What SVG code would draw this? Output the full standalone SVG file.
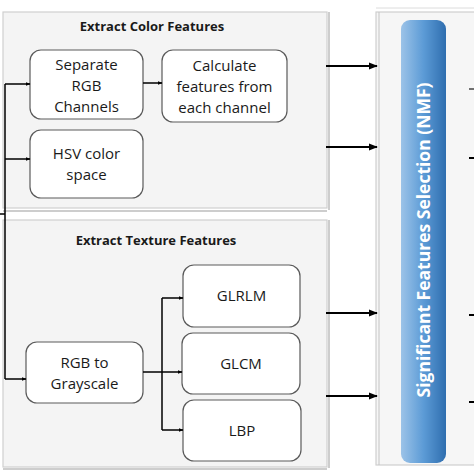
<svg xmlns="http://www.w3.org/2000/svg" width="474" height="474" viewBox="0 0 474 474">
<defs>
<style>
.panel{fill:#f4f4f4;stroke:#cfcfcf;stroke-width:1.2}
.shadow{fill:none;stroke:#bdbdbd;stroke-width:1.5}
.node{fill:#ffffff;stroke:#5a5a5a;stroke-width:1.2}
.lbl{font-family:"Open Sans","Liberation Sans",sans-serif;font-size:15px;fill:#1a1a1a;text-anchor:middle}
.ttl{font-family:"Open Sans","Liberation Sans",sans-serif;font-size:13px;font-weight:bold;fill:#1a1a1a;text-anchor:middle}
.thin{fill:none;stroke:#000;stroke-width:1.5}
.thick{fill:none;stroke:#000;stroke-width:2.2}
</style>
<marker id="ah" viewBox="0 0 10 10" refX="9" refY="5" markerWidth="5" markerHeight="5" orient="auto" markerUnits="userSpaceOnUse"><path d="M0,1 L10,5 L0,9 z" fill="#000"/></marker>
<marker id="ahb" viewBox="0 0 10 10" refX="9" refY="5" markerWidth="9" markerHeight="9" orient="auto" markerUnits="userSpaceOnUse"><path d="M0,1 L10,5 L0,9 z" fill="#000"/></marker>
<linearGradient id="blue" x1="0" y1="0" x2="1" y2="0">
<stop offset="0" stop-color="#9cc3e8"/>
<stop offset="0.5" stop-color="#5c9bd6"/>
<stop offset="1" stop-color="#2f6eaf"/>
</linearGradient>
</defs>
<rect width="474" height="474" fill="#ffffff"/>

<g id="panel-color">
<rect class="panel" x="3" y="12" width="324" height="196"/>
<line class="shadow" x1="3" y1="211" x2="327" y2="211"/>
<line class="shadow" x1="329" y1="12" x2="329" y2="210"/>
<text class="ttl" x="152" y="31">Extract Color Features</text>
</g>
<g id="panel-texture">
<rect class="panel" x="3" y="220" width="324" height="247"/>
<line class="shadow" x1="3" y1="469" x2="327" y2="469"/>
<line class="shadow" x1="329" y1="220" x2="329" y2="468"/>
<text class="ttl" x="156" y="245">Extract Texture Features</text>
</g>
<g id="panel-selection">
<rect x="376" y="12" width="110" height="453" fill="#f6f6f6" stroke="#cfcfcf" stroke-width="1.2"/>
<line x1="379" y1="12" x2="379" y2="465" stroke="#c4c4c4" stroke-width="1"/>
<line x1="376" y1="8" x2="474" y2="8" stroke="#dcdcdc" stroke-width="1"/>
</g>

<g id="node-separate">
<rect class="node" x="30" y="50" width="113" height="69" rx="11"/>
<text class="lbl" x="86.5" y="70">Separate</text>
<text class="lbl" x="86.5" y="91">RGB</text>
<text class="lbl" x="86.5" y="112">Channels</text>
</g>
<g id="node-calc">
<rect class="node" x="162" y="50" width="125" height="72" rx="11"/>
<text class="lbl" x="224.5" y="71">Calculate</text>
<text class="lbl" x="224.5" y="92">features from</text>
<text class="lbl" x="224.5" y="113">each channel</text>
</g>
<g id="node-hsv">
<rect class="node" x="30" y="130" width="113" height="68" rx="11"/>
<text class="lbl" x="86.5" y="159">HSV color</text>
<text class="lbl" x="86.5" y="180">space</text>
</g>
<g id="node-gray">
<rect class="node" x="26" y="342" width="117" height="61" rx="11"/>
<text class="lbl" x="84.5" y="368">RGB to</text>
<text class="lbl" x="84.5" y="389">Grayscale</text>
</g>
<g id="node-glrlm">
<rect class="node" x="183" y="265" width="117" height="62" rx="11"/>
<text class="lbl" x="241.5" y="301">GLRLM</text>
</g>
<g id="node-glcm">
<rect class="node" x="182" y="333" width="118" height="61" rx="11"/>
<text class="lbl" x="241" y="369">GLCM</text>
</g>
<g id="node-lbp">
<rect class="node" x="183" y="400" width="118" height="61" rx="11"/>
<text class="lbl" x="242" y="436">LBP</text>
</g>
<g id="node-nmf">
<rect x="401" y="20" width="45" height="443" rx="9" fill="url(#blue)"/>
<text transform="translate(430,240) rotate(-90)" font-family="'Open Sans','Liberation Sans',sans-serif" font-size="17.5" font-weight="bold" fill="#ffffff" text-anchor="middle">Significant Features Selection (NMF)</text>
</g>

<g id="connectors">
<path class="thin" d="M0,214 H5"/>
<path class="thin" d="M5,84 V379"/>
<path class="thin" d="M5,84 H30" marker-end="url(#ah)"/>
<path class="thin" d="M5,159 H30" marker-end="url(#ah)"/>
<path class="thin" d="M5,379 H26" marker-end="url(#ah)"/>
<path class="thin" d="M143,83 H162" marker-end="url(#ah)"/>
<path class="thin" d="M143,372 H162"/>
<path class="thin" d="M162,298 V430"/>
<path class="thin" d="M162,298 H183" marker-end="url(#ah)"/>
<path class="thin" d="M162,372 H182" marker-end="url(#ah)"/>
<path class="thin" d="M162,430 H183" marker-end="url(#ah)"/>
<path class="thick" d="M326,66 H377" marker-end="url(#ahb)"/>
<path class="thick" d="M326,147 H377" marker-end="url(#ahb)"/>
<path class="thick" d="M326,313 H377" marker-end="url(#ahb)"/>
<path class="thick" d="M326,396 H377" marker-end="url(#ahb)"/>
<path d="M469,89 H474" stroke="#444" stroke-width="1.5"/>
<path d="M469,158 H474" stroke="#000" stroke-width="2"/>
<path d="M469,315 H474" stroke="#000" stroke-width="2"/>
<path d="M469,402 H474" stroke="#000" stroke-width="2"/>
</g>
</svg>
